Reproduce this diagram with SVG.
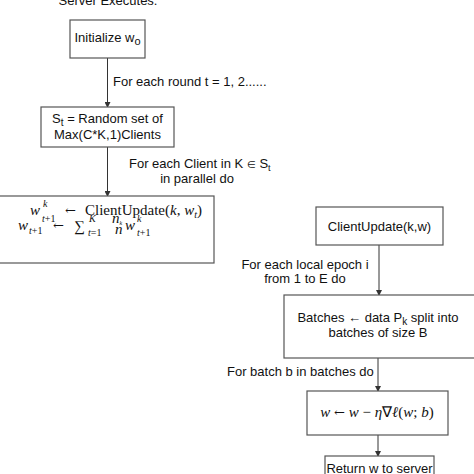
<svg xmlns="http://www.w3.org/2000/svg" width="474" height="474" viewBox="0 0 474 474">
<defs>
<marker id="ah" markerWidth="6" markerHeight="6" refX="5" refY="3" orient="auto" markerUnits="userSpaceOnUse">
<path d="M0,0 L6,3 L0,6 Z" fill="#333"/>
</marker>
<style>
.box{fill:#fff;stroke:#555;stroke-width:1.2}
.t{font-family:"Liberation Sans",Arial,sans-serif;font-size:13px;fill:#111}
.c{text-anchor:middle}
.m{font-family:"Liberation Serif","Times New Roman",serif;font-size:15px;fill:#111}
.i{font-style:italic}
.s{font-size:10px}
.ar{font-family:"DejaVu Serif",serif;font-size:13px}
.line{stroke:#333;stroke-width:1;fill:none;marker-end:url(#ah)}
</style>
</defs>
<rect width="474" height="474" fill="#fff"/>
<text class="t c" x="108" y="5">Server Executes.</text>

<g id="connectors">
<line class="line" x1="107.5" y1="58" x2="107.5" y2="107"/>
<line class="line" x1="107.5" y1="147" x2="107.5" y2="196"/>
<line class="line" x1="379" y1="245" x2="379" y2="295"/>
<line class="line" x1="378" y1="358" x2="378" y2="391"/>
<line class="line" x1="378" y1="435" x2="378" y2="456"/>
<text class="t" x="113" y="86">For each round t = 1, 2......</text>
<text class="t" x="129" y="168">For each Client in K <tspan font-size="10">∈</tspan> S<tspan font-size="9" dy="3">t</tspan></text>
<text class="t c" x="197" y="183">in parallel do</text>
<text class="t c" x="305" y="269">For each local epoch i</text>
<text class="t c" x="305" y="283">from 1 to E do</text>
<text class="t" x="227" y="376">For batch b in batches do</text>
</g>

<g id="init">
<rect class="box" x="70" y="20" width="75" height="38"/>
<text class="t c" x="107.5" y="42">Initialize w<tspan font-size="11" dy="3">o</tspan></text>
</g>

<g id="select">
<rect class="box" x="41" y="107" width="133" height="40"/>
<text class="t c" x="107.5" y="123">S<tspan font-size="10" dy="3">t</tspan><tspan dy="-3"> = Random set of</tspan></text>
<text class="t c" x="107.5" y="139">Max(C*K,1)Clients</text>
</g>

<g id="aggregate">
<rect class="box" x="-2" y="196" width="216" height="67"/>
<text class="m i" x="30" y="215">w</text>
<text class="m i s" x="43" y="207">k</text>
<text class="m s" x="42" y="222"><tspan class="i">t</tspan>+1</text>
<text class="m ar" x="65" y="215">←</text>
<text class="m" x="85" y="215">ClientUpdate(<tspan class="i">k</tspan>, <tspan class="i">w</tspan><tspan class="i" font-size="10" dy="3">t</tspan><tspan dy="-3">)</tspan></text>
<text class="m i" x="18" y="230">w</text>
<text class="m s" x="29" y="234"><tspan class="i">t</tspan>+1</text>
<text class="m ar" x="53" y="230">←</text>
<text class="m" x="74" y="231">∑</text>
<text class="m i s" x="89" y="222">K</text>
<text class="m s" x="88" y="236"><tspan class="i">t</tspan>=1</text>
<text class="m i" font-size="8" x="112" y="223">n<tspan font-size="6" dy="2">k</tspan></text>
<text class="m i" font-size="8" x="115" y="234">n</text>
<text class="m i" x="125" y="230">w</text>
<text class="m i s" x="137" y="222">k</text>
<text class="m s" x="137" y="236"><tspan class="i">t</tspan>+1</text>
</g>

<g id="clientupdate">
<rect class="box" x="316" y="207" width="127" height="38"/>
<text class="t c" x="379.5" y="231">ClientUpdate(k,w)</text>
</g>

<g id="batches">
<rect class="box" x="284" y="295" width="200" height="63"/>
<text class="t c" x="378" y="322">Batches ← data P<tspan font-size="10" dy="3">k</tspan><tspan dy="-3"> split into</tspan></text>
<text class="t c" x="378" y="337">batches of size B</text>
</g>

<g id="sgd">
<rect class="box" x="307" y="391" width="141" height="44"/>
<text class="m c" x="377" y="417"><tspan class="i">w</tspan> <tspan class="ar">←</tspan> <tspan class="i">w</tspan> − <tspan class="i">η</tspan>∇<tspan class="i">ℓ</tspan>(<tspan class="i">w</tspan>; <tspan class="i">b</tspan>)</text>
</g>

<g id="return">
<rect class="box" x="325" y="456" width="109" height="30"/>
<text class="t c" x="379.5" y="473">Return w to server</text>
</g>
</svg>
